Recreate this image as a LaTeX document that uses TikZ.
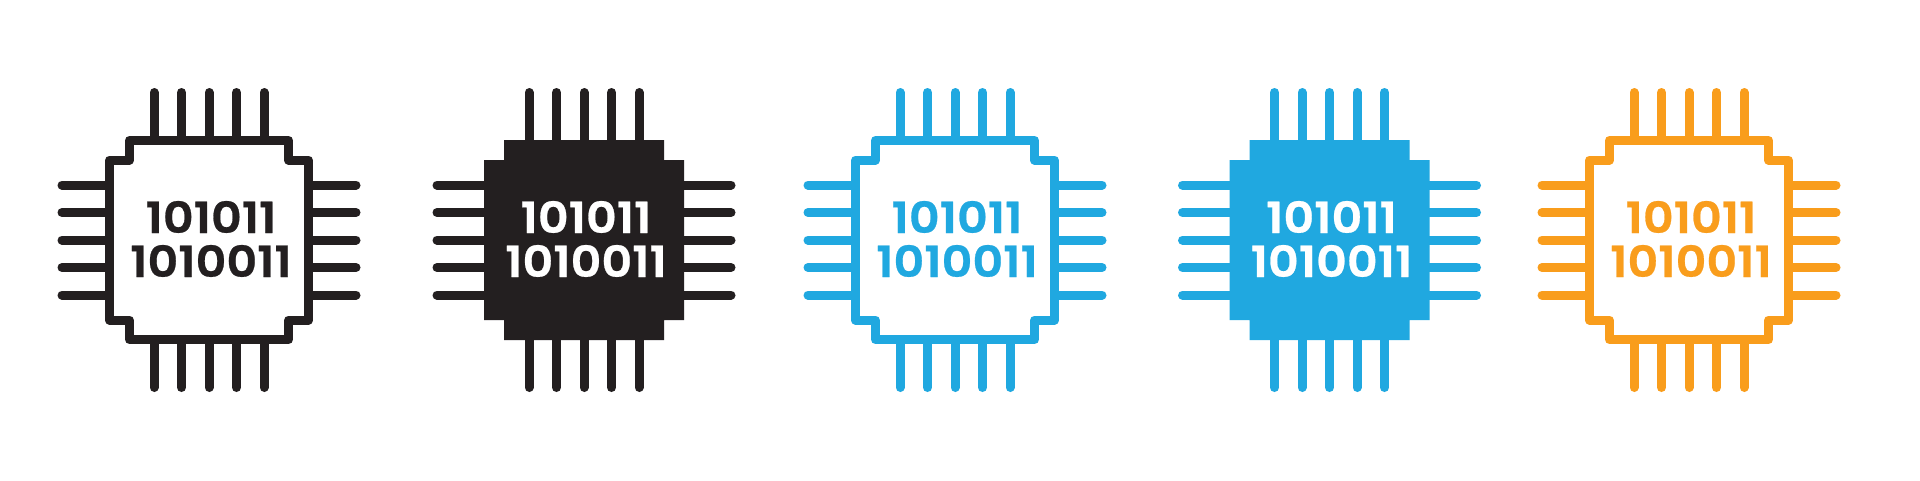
\documentclass[tikz,border=0pt]{standalone}
\usepackage{fontspec}
\setmainfont[FakeStretch=1.11,FakeBold=0.6]{Poppins SemiBold}
\definecolor{chipblack}{HTML}{231F20}
\definecolor{chipblue}{HTML}{20A8E0}
\definecolor{chiporange}{HTML}{F99D1C}

\begin{document}
\begin{tikzpicture}[x=1pt,y=-1pt,
  pin line/.style={line width=9pt,line cap=round},
  chip outline/.style={line width=9pt,line join=round,fill=white},
  bits/.style={font=\fontsize{43}{43}\selectfont,inner sep=0pt,anchor=base}]

  \useasboundingbox[fill=white] (0,0) rectangle (1920,480);

  % five chips: centre, colour, solid body or not, colour of the digits
  \foreach \cx/\col/\solid/\txt [count=\i] in {
      209/chipblack/0/chipblack,
      584/chipblack/1/white,
      955/chipblue/0/chipblue,
      1329.5/chipblue/1/white,
      1689/chiporange/0/chiporange} {
    \begin{scope}[shift={(\cx,240)},color=\col]
      \foreach \p in {-55,-27.5,0,27.5,55} {
        \draw[pin line] (\p,-147.5) -- (\p,-100);
        \draw[pin line] (\p,147.5) -- (\p,100);
        \draw[pin line] (-147,\p) -- (-99,\p);
        \draw[pin line] (147,\p) -- (99,\p);
      }
      \ifnum\solid=1
        \path[fill] (-100,-80) -| (-80,-100) -| (80,-80) -| (100,80) -| (80,100) -| (-80,80) -| cycle;
      \else
        \draw[chip outline] (-99.5,-80) -| (-79.5,-99.5) -| (79.5,-80) -| (99.5,80) -| (79.5,99.5) -| (-79.5,80) -| cycle;
      \fi
      \node[bits,text=\txt] (top\i) at (2,-7) {101011};
      \node[bits,text=\txt] (low\i) at (2,37) {1010011};
    \end{scope}
  }

\end{tikzpicture}
\end{document}
